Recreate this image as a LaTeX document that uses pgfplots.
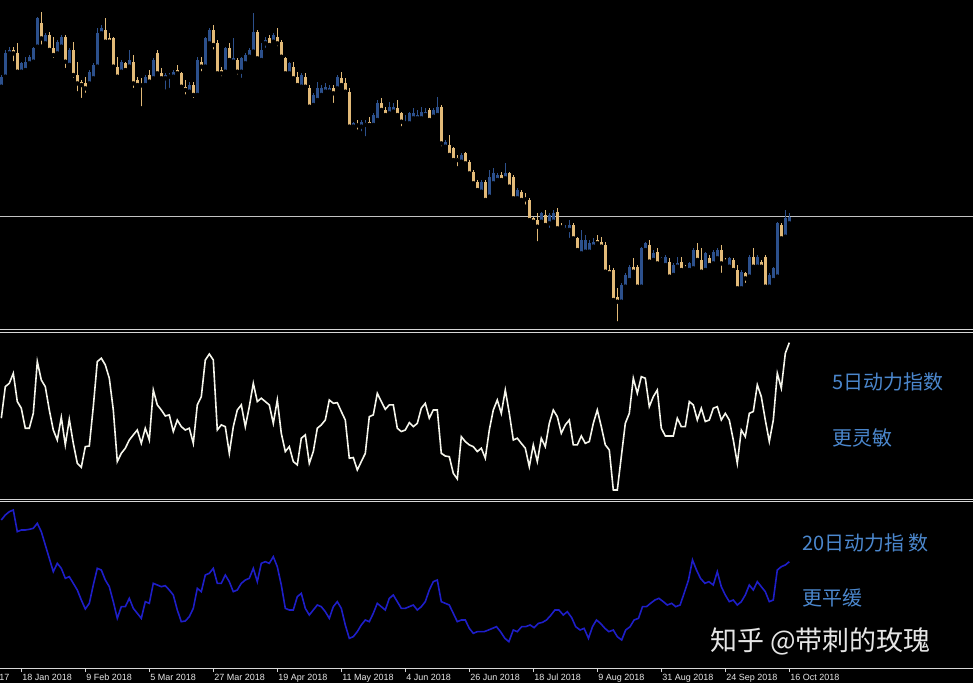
\documentclass[border=0pt]{standalone}
\usepackage{pgfplots}
\usepackage{pgfplotstable}
\pgfplotsset{compat=1.18}
\usepackage{fontspec}
\setmainfont{Liberation Sans}
\newfontfamily\cjk{Noto Sans CJK SC}

\definecolor{upcol}{RGB}{44,80,140}
\definecolor{dncol}{RGB}{226,186,120}
\definecolor{mom5}{RGB}{245,245,235}
\definecolor{mom20}{RGB}{30,30,200}
\definecolor{note}{RGB}{75,135,205}
\definecolor{axc}{RGB}{215,215,215}

% gold daily candles, bar index, open high low close
\pgfplotstableread{
x o h l c
0 1316.2 1324.0 1315.1 1322.9
1 1322.9 1340.7 1321.8 1338.4
2 1338.4 1342.9 1336.2 1340.7
3 1340.7 1342.9 1331.8 1338.4
4 1338.4 1345.1 1325.1 1326.2
5 1326.2 1332.9 1324.0 1331.8
6 1327.3 1336.2 1326.2 1332.9
7 1331.8 1337.3 1330.7 1336.2
8 1332.9 1342.9 1331.8 1341.8
9 1342.9 1362.9 1341.8 1361.8
10 1358.4 1366.2 1342.9 1348.4
11 1345.1 1351.8 1344.0 1350.7
12 1350.7 1352.9 1338.4 1340.7
13 1341.8 1349.6 1334.0 1337.3
14 1338.4 1347.3 1336.2 1346.2
15 1342.9 1350.7 1341.8 1349.6
16 1349.6 1350.7 1327.3 1332.9
17 1330.7 1341.8 1329.6 1340.7
18 1340.7 1346.2 1320.7 1324.0
19 1324.0 1332.9 1311.8 1318.4
20 1319.6 1320.7 1307.3 1317.3
21 1318.4 1322.9 1310.7 1315.1
22 1318.4 1327.3 1316.2 1326.2
23 1321.8 1331.8 1320.7 1330.7
24 1329.6 1355.1 1328.4 1351.8
25 1351.8 1357.3 1350.7 1355.1
26 1354.0 1361.8 1345.1 1346.2
27 1348.4 1351.8 1345.1 1346.2
28 1348.4 1349.6 1328.4 1329.6
29 1329.6 1336.2 1321.8 1322.9
30 1326.2 1334.0 1324.0 1332.9
31 1331.8 1332.9 1325.1 1327.3
32 1329.6 1340.7 1328.4 1334.0
33 1332.9 1337.3 1314.0 1318.4
34 1320.7 1322.9 1315.6 1317.3
35 1318.0 1321.8 1301.8 1317.1
36 1317.3 1324.0 1316.2 1322.9
37 1324.0 1327.3 1318.4 1319.6
38 1321.8 1335.1 1320.7 1334.0
39 1338.4 1340.7 1324.0 1325.1
40 1325.1 1328.4 1319.6 1321.8
41 1321.8 1325.1 1312.9 1324.0
42 1322.9 1325.1 1314.0 1323.6
43 1322.9 1327.3 1321.8 1326.2
44 1327.3 1330.7 1324.0 1325.1
45 1325.1 1326.2 1315.1 1316.2
46 1316.2 1320.7 1309.6 1314.0
47 1312.9 1319.6 1311.8 1317.3
48 1317.3 1319.6 1307.3 1310.7
49 1310.7 1336.2 1309.6 1334.0
50 1332.9 1336.2 1325.1 1329.6
51 1329.6 1349.6 1328.4 1348.4
52 1345.1 1355.1 1344.0 1354.0
53 1354.0 1357.3 1339.6 1344.0
54 1345.1 1347.3 1324.0 1325.1
55 1327.3 1329.6 1321.8 1325.1
56 1326.2 1342.9 1325.1 1341.8
57 1341.8 1345.1 1332.9 1334.0
58 1332.9 1348.4 1331.8 1335.1
59 1334.0 1335.1 1322.9 1326.2
60 1326.2 1336.2 1320.7 1335.1
61 1331.8 1338.4 1330.7 1337.3
62 1336.2 1341.8 1335.1 1340.7
63 1339.6 1365.1 1338.4 1352.9
64 1352.9 1354.0 1334.0 1335.1
65 1334.0 1345.1 1332.9 1340.7
66 1345.1 1349.6 1340.7 1347.3
67 1348.4 1350.7 1342.9 1344.0
68 1346.2 1351.8 1345.1 1350.7
69 1349.6 1355.1 1341.8 1345.1
70 1346.2 1347.3 1335.1 1336.2
71 1335.1 1336.2 1324.0 1325.1
72 1325.1 1332.9 1322.9 1331.8
73 1329.6 1332.9 1319.6 1321.8
74 1322.9 1326.2 1316.2 1317.3
75 1316.2 1325.1 1315.1 1324.0
76 1322.9 1325.1 1315.1 1316.2
77 1315.1 1317.3 1301.8 1302.9
78 1304.0 1311.8 1302.9 1310.7
79 1307.3 1319.6 1306.2 1315.1
80 1310.7 1317.3 1309.6 1315.1
81 1312.9 1318.4 1311.8 1316.2
82 1312.9 1317.3 1310.7 1315.1
83 1315.1 1317.3 1304.0 1311.8
84 1315.1 1324.0 1314.0 1322.9
85 1321.8 1326.2 1316.2 1317.3
86 1318.4 1321.8 1311.8 1312.9
87 1312.9 1315.1 1288.4 1289.6
88 1289.6 1292.9 1287.3 1291.8
89 1291.3 1294.0 1286.2 1290.4
90 1289.6 1294.0 1285.1 1292.9
91 1290.7 1294.0 1281.8 1291.8
92 1292.9 1296.2 1289.6 1290.7
93 1290.7 1298.4 1289.6 1297.3
94 1294.0 1307.3 1292.9 1305.1
95 1305.1 1308.4 1298.4 1300.7
96 1300.7 1302.9 1296.2 1297.3
97 1298.4 1306.2 1297.3 1302.9
98 1299.6 1305.1 1298.4 1302.9
99 1301.8 1307.3 1296.2 1297.3
100 1298.4 1299.6 1288.4 1292.9
101 1291.8 1297.3 1290.7 1292.9
102 1291.8 1299.6 1290.7 1298.4
103 1295.1 1301.8 1294.0 1298.4
104 1295.1 1300.7 1294.0 1297.3
105 1295.1 1302.9 1294.0 1299.6
106 1297.3 1301.8 1296.2 1299.6
107 1300.7 1301.8 1292.9 1294.0
108 1296.2 1301.8 1295.1 1300.7
109 1297.3 1309.6 1296.2 1302.9
110 1302.9 1304.0 1275.1 1278.4
111 1276.2 1280.7 1275.1 1279.6
112 1277.3 1284.0 1269.6 1270.7
113 1275.1 1276.2 1266.2 1267.3
114 1268.4 1270.7 1261.8 1267.3
115 1266.2 1271.8 1265.1 1270.7
116 1271.8 1272.9 1264.0 1265.1
117 1266.2 1267.3 1257.3 1258.4
118 1259.6 1260.7 1250.7 1251.8
119 1252.9 1254.0 1246.2 1247.3
120 1246.2 1254.0 1245.1 1252.9
121 1252.9 1254.0 1239.6 1240.7
122 1242.9 1260.7 1240.7 1256.2
123 1251.8 1261.8 1250.7 1258.4
124 1254.0 1258.4 1252.9 1257.3
125 1257.3 1259.6 1252.9 1254.0
126 1255.1 1265.1 1254.0 1258.4
127 1258.4 1259.6 1247.3 1249.6
128 1256.2 1257.3 1240.7 1241.8
129 1241.8 1248.4 1240.7 1247.3
130 1246.2 1247.3 1238.4 1240.7
131 1242.2 1245.1 1236.2 1241.1
132 1240.7 1241.8 1226.2 1227.3
133 1228.4 1229.6 1225.1 1226.2
134 1227.3 1231.8 1211.8 1222.9
135 1226.2 1232.9 1225.1 1231.8
136 1230.7 1234.0 1222.9 1224.0
137 1225.1 1231.8 1220.7 1230.7
138 1226.2 1234.0 1225.1 1231.8
139 1232.9 1235.1 1220.7 1221.8
140 1223.3 1225.1 1220.7 1222.4
141 1220.7 1224.0 1218.4 1221.8
142 1220.7 1227.3 1214.0 1224.0
143 1224.0 1225.1 1214.0 1215.1
144 1215.1 1216.2 1206.2 1207.3
145 1205.1 1220.7 1204.0 1214.0
146 1206.2 1217.3 1205.1 1214.0
147 1206.2 1214.0 1205.1 1211.8
148 1209.6 1215.1 1208.4 1212.9
149 1214.0 1217.3 1209.6 1211.8
150 1212.9 1216.2 1207.3 1209.6
151 1210.7 1212.9 1191.8 1192.9
152 1194.0 1197.3 1190.7 1191.8
153 1194.0 1195.1 1172.9 1174.0
154 1176.2 1181.8 1158.4 1172.9
155 1172.9 1185.1 1171.8 1184.0
156 1182.9 1191.8 1181.8 1190.7
157 1187.3 1197.3 1186.2 1196.2
158 1196.2 1201.8 1191.8 1192.9
159 1196.2 1197.3 1181.8 1182.9
160 1182.9 1209.6 1181.8 1208.4
161 1207.3 1212.9 1206.2 1211.8
162 1210.7 1214.0 1198.4 1199.6
163 1200.7 1207.3 1199.6 1205.1
164 1206.2 1208.4 1197.3 1198.4
165 1200.7 1202.9 1199.6 1201.8
166 1197.3 1204.0 1196.2 1202.9
167 1199.6 1201.8 1188.4 1189.6
168 1190.7 1198.4 1189.6 1197.3
169 1196.2 1202.9 1195.1 1198.4
170 1199.6 1202.9 1192.9 1194.0
171 1196.2 1197.3 1194.0 1195.1
172 1194.0 1199.6 1192.9 1198.4
173 1195.1 1208.4 1194.0 1207.3
174 1207.3 1211.8 1199.6 1200.7
175 1200.7 1208.4 1191.8 1192.9
176 1194.0 1206.2 1192.9 1205.1
177 1201.8 1204.0 1196.2 1197.3
178 1198.4 1207.3 1197.3 1206.2
179 1201.8 1208.4 1200.7 1207.3
180 1207.3 1210.7 1190.7 1198.4
181 1200.7 1201.8 1198.4 1199.6
182 1196.2 1202.9 1195.1 1201.8
183 1200.7 1201.8 1192.9 1194.0
184 1194.0 1197.3 1180.7 1181.8
185 1181.8 1194.0 1180.7 1192.9
186 1191.8 1192.9 1184.0 1188.4
187 1189.6 1204.0 1188.4 1202.9
188 1202.9 1208.4 1195.1 1196.2
189 1196.2 1204.0 1195.1 1202.9
190 1199.6 1200.7 1195.1 1196.2
191 1202.9 1204.0 1181.8 1182.9
192 1182.9 1191.8 1181.8 1190.7
193 1187.3 1196.2 1186.2 1195.1
194 1189.6 1226.2 1188.4 1225.1
195 1224.0 1225.1 1214.0 1215.1
196 1216.2 1234.0 1215.1 1228.4
197 1225.1 1231.8 1224.0 1229.6
}\candles

% 5-day momentum
\pgfplotstableread{
x m
0 99.90
1 101.32
2 101.47
3 101.92
4 100.65
5 100.35
6 99.45
7 99.45
8 100.12
9 102.45
10 101.62
11 101.32
12 100.27
13 99.37
14 98.92
15 99.94
16 98.70
17 99.85
18 98.77
19 97.87
20 97.69
21 98.62
22 98.65
23 100.42
24 102.45
25 102.60
26 102.30
27 101.70
28 100.27
29 97.95
30 98.32
31 98.55
32 98.92
33 99.15
34 99.37
35 98.77
36 99.45
37 98.92
38 101.17
39 100.50
40 100.27
41 100.00
42 100.05
43 99.30
44 99.82
45 99.52
46 99.37
47 99.45
48 98.77
49 100.50
50 100.87
51 102.52
52 102.79
53 102.52
54 99.37
55 99.60
56 99.52
57 98.32
58 99.52
59 100.27
60 100.50
61 99.52
62 100.42
63 101.47
64 100.65
65 100.80
66 100.65
67 100.50
68 99.67
69 100.72
70 99.22
71 98.40
72 98.62
73 97.95
74 97.80
75 99.00
76 99.15
77 97.87
78 98.40
79 99.45
80 99.60
81 99.82
82 100.72
83 100.57
84 100.60
85 100.20
86 99.82
87 98.10
88 98.13
89 97.57
90 97.95
91 98.32
92 99.97
93 100.05
94 101.02
95 100.65
96 100.30
97 100.50
98 100.50
99 99.45
100 99.30
101 99.37
102 99.70
103 99.52
104 99.67
105 100.35
106 100.57
107 99.90
108 100.27
109 100.27
110 98.32
111 98.20
112 98.17
113 97.42
114 97.17
115 99.07
116 98.85
117 98.70
118 98.62
119 98.40
120 98.55
121 98.10
122 99.37
123 100.27
124 100.72
125 100.12
126 101.17
127 100.12
128 98.92
129 99.00
130 98.77
131 98.55
132 97.72
133 98.70
134 97.95
135 99.00
136 98.62
137 99.67
138 100.27
139 99.97
140 99.22
141 99.60
142 99.82
143 98.70
144 98.70
145 99.10
146 98.77
147 98.85
148 99.67
149 100.27
150 99.52
151 98.70
152 98.47
153 96.67
154 96.67
155 98.17
156 99.67
157 100.12
158 101.70
159 101.02
160 101.77
161 101.70
162 100.42
163 100.87
164 101.17
165 99.45
166 99.10
167 99.10
168 99.10
169 99.90
170 99.52
171 99.52
172 100.65
173 100.50
174 99.82
175 100.35
176 99.75
177 99.82
178 100.35
179 100.42
180 99.82
181 100.12
182 99.82
183 98.92
184 97.87
185 99.37
186 99.07
187 100.12
188 100.20
189 101.40
190 100.87
191 99.82
192 98.85
193 99.82
194 101.92
195 101.25
196 102.82
197 103.30
}\momfive

% 20-day momentum
\pgfplotstableread{
x m
0 106.03
1 106.48
2 106.78
3 106.93
4 104.98
5 105.13
6 105.13
7 105.19
8 105.28
9 105.73
10 104.98
11 103.78
12 102.58
13 101.38
14 102.13
15 101.68
16 100.78
17 100.93
18 100.33
19 99.73
20 98.83
21 98.02
22 98.53
23 100.18
24 101.68
25 101.53
26 100.63
27 100.03
28 98.68
29 97.18
30 98.23
31 98.23
32 98.98
33 98.08
34 97.63
35 97.18
36 98.68
37 98.53
38 100.33
39 100.18
40 100.03
41 100.12
42 99.73
43 99.28
44 97.93
45 96.88
46 96.94
47 97.33
48 98.08
49 99.88
50 99.58
51 101.08
52 101.23
53 101.68
54 100.33
55 100.33
56 101.08
57 100.48
58 99.58
59 99.73
60 100.33
61 100.63
62 100.78
63 101.68
64 100.48
65 102.13
66 102.28
67 102.13
68 102.73
69 101.83
70 100.18
71 98.08
72 97.93
73 97.93
74 99.13
75 99.43
76 98.08
77 97.48
78 97.93
79 98.38
80 98.23
81 97.78
82 97.18
83 98.23
84 98.68
85 98.08
86 96.58
87 95.38
88 95.53
89 95.98
90 96.58
91 97.03
92 96.88
93 97.63
94 98.53
95 98.23
96 97.93
97 98.98
98 99.28
99 98.68
100 98.08
101 98.08
102 98.23
103 98.38
104 97.93
105 98.23
106 98.68
107 99.73
108 100.48
109 100.63
110 98.68
111 98.53
112 98.38
113 97.63
114 96.88
115 97.03
116 97.03
117 96.28
118 95.83
119 95.98
120.7 95.98
121.8 96.13
122.8 96.28
123.8 96.43
124.8 95.98
125.9 95.38
126.9 95.08
128.0 96.13
129.0 95.98
130.1 96.43
131.1 96.43
132.2 96.58
133.2 96.34
134.3 96.73
135.3 96.82
136.3 97.03
137.3 97.42
138.4 97.93
139.4 97.93
140.5 97.48
141.5 97.78
142.6 97.24
143.6 96.43
144.7 96.13
145.7 96.28
146.8 95.38
147.8 96.43
148.8 97.03
149.8 96.73
150.9 96.28
151.9 95.98
153.0 96.13
154.0 95.53
155.1 95.23
156.1 96.13
157.2 96.43
158.2 97.03
159.3 97.18
160.3 98.23
161.3 98.23
162.3 98.53
163.4 98.83
164.4 98.98
165.5 98.68
166.5 98.38
167.6 98.53
168.6 98.23
169.7 98.38
170.7 99.43
171.8 100.63
172.8 102.43
173.8 101.53
174.8 100.78
175.9 100.33
176.9 100.48
178.0 100.18
179.0 101.38
180.0 100.03
181.0 99.28
182.0 98.68
183.0 98.83
184.0 98.38
185.0 98.68
186.0 99.28
187.0 100.18
188.0 99.73
189.0 100.48
190.0 100.03
191.0 99.58
192.0 98.68
193.0 98.83
194.0 101.53
195.0 101.83
196.0 101.98
197.0 102.28
}\momtwenty

\pgfplotsset{
  panel/.style={scale only axis, width=973pt, xmin=-0.325, xmax=242.925,
    anchor=south west, hide axis},
  wick/.style={only marks, mark=none, error bars/y dir=plus,
    error bars/y explicit, error bars/error mark=none,
    error bars/error bar style={line width=1pt, color=#1}},
  body/.style={only marks, mark=none, error bars/y dir=plus,
    error bars/y explicit, error bars/error mark=none,
    error bars/error bar style={line width=2.8pt, color=#1}},
}

\begin{document}
\begin{tikzpicture}
\fill[black] (0pt,0pt) rectangle (973pt,683pt);
\path[use as bounding box] (0pt,0pt) rectangle (973pt,683pt);
\clip (0pt,0pt) rectangle (973pt,683pt);

% price panel
\begin{axis}[panel, at={(0pt,355pt)}, height=328pt, ymin=1155.33, ymax=1374]
\addplot[axc!90!black, line width=0.8pt] coordinates {(-1,1229.6) (244,1229.6)};
\addplot[restrict expr to domain={\thisrow{c}-\thisrow{o}}{0:1000}, wick=upcol]
  table[x=x, y=l, y error expr=\thisrow{h}-\thisrow{l}] {\candles};
\addplot[restrict expr to domain={\thisrow{c}-\thisrow{o}}{0:1000}, body=upcol]
  table[x=x, y=o, y error expr=\thisrow{c}-\thisrow{o}] {\candles};
\addplot[restrict expr to domain={\thisrow{c}-\thisrow{o}}{-1000:0}, wick=dncol]
  table[x=x, y=l, y error expr=\thisrow{h}-\thisrow{l}] {\candles};
\addplot[restrict expr to domain={\thisrow{c}-\thisrow{o}}{-1000:0}, body=dncol]
  table[x=x, y=c, y error expr=\thisrow{o}-\thisrow{c}] {\candles};
\end{axis}

% 5-day momentum
\begin{axis}[panel, at={(0pt,184pt)}, height=166pt, ymin=96.265, ymax=103.735]
\addplot[mom5, line width=1.6pt] table[x=x, y=m] {\momfive};
\end{axis}

% 20-day momentum with date axis
\begin{axis}[scale only axis, width=1017.7pt, height=165pt, at={(-44.7pt,15pt)},
  anchor=south west, xmin=-11.5, xmax=242.925, ymin=92.71, ymax=107.56,
  axis x line*=bottom, axis y line=none, ytick=\empty,
  x axis line style={-, draw=axc, line width=0.8pt},
  tick align=outside, major tick length=4pt,
  xtick style={draw=axc, line width=0.8pt},
  xtick={-11,5,21,37,53,69,85,101,117,133,149,165,181,197},
  xticklabels={27 Dec 2017, 18 Jan 2018, 9 Feb 2018, 5 Mar 2018, 27 Mar 2018,
    19 Apr 2018, 11 May 2018, 4 Jun 2018, 26 Jun 2018, 18 Jul 2018,
    9 Aug 2018, 31 Aug 2018, 24 Sep 2018, 16 Oct 2018},
  xticklabel style={anchor=north west, xshift=-2.5pt, text=axc!60!white,
    text height=7pt, text depth=2pt, inner ysep=1.5pt,
    font=\fontsize{9}{10}\selectfont}]
\addplot[mom20, line width=1.6pt] table[x=x, y=m] {\momtwenty};
\end{axis}

% panel separators
\draw[axc, line width=1pt] (0pt,353.2pt) -- (973pt,353.2pt);
\draw[axc, line width=1pt] (0pt,350.8pt) -- (973pt,350.8pt);
\draw[axc, line width=1pt] (0pt,183.7pt) -- (973pt,183.7pt);
\draw[axc, line width=1pt] (0pt,181.7pt) -- (973pt,181.7pt);

\begin{scope}[every node/.style={anchor=west, inner sep=0pt, text=note,
    font=\cjk\fontsize{20}{24}\selectfont}]
\node at (832pt,301pt) {5日动力指数};
\node at (832pt,245.5pt) {更灵敏};
\node at (802pt,140.5pt) {20日动力指 数};
\node at (802pt,85.5pt) {更平缓};
\end{scope}
\node[anchor=west, inner sep=0pt, text=white!90!black,
  font=\cjk\fontsize{27}{30}\selectfont] at (710pt,42pt) {知乎 @带刺的玫瑰};
\end{tikzpicture}
\end{document}
